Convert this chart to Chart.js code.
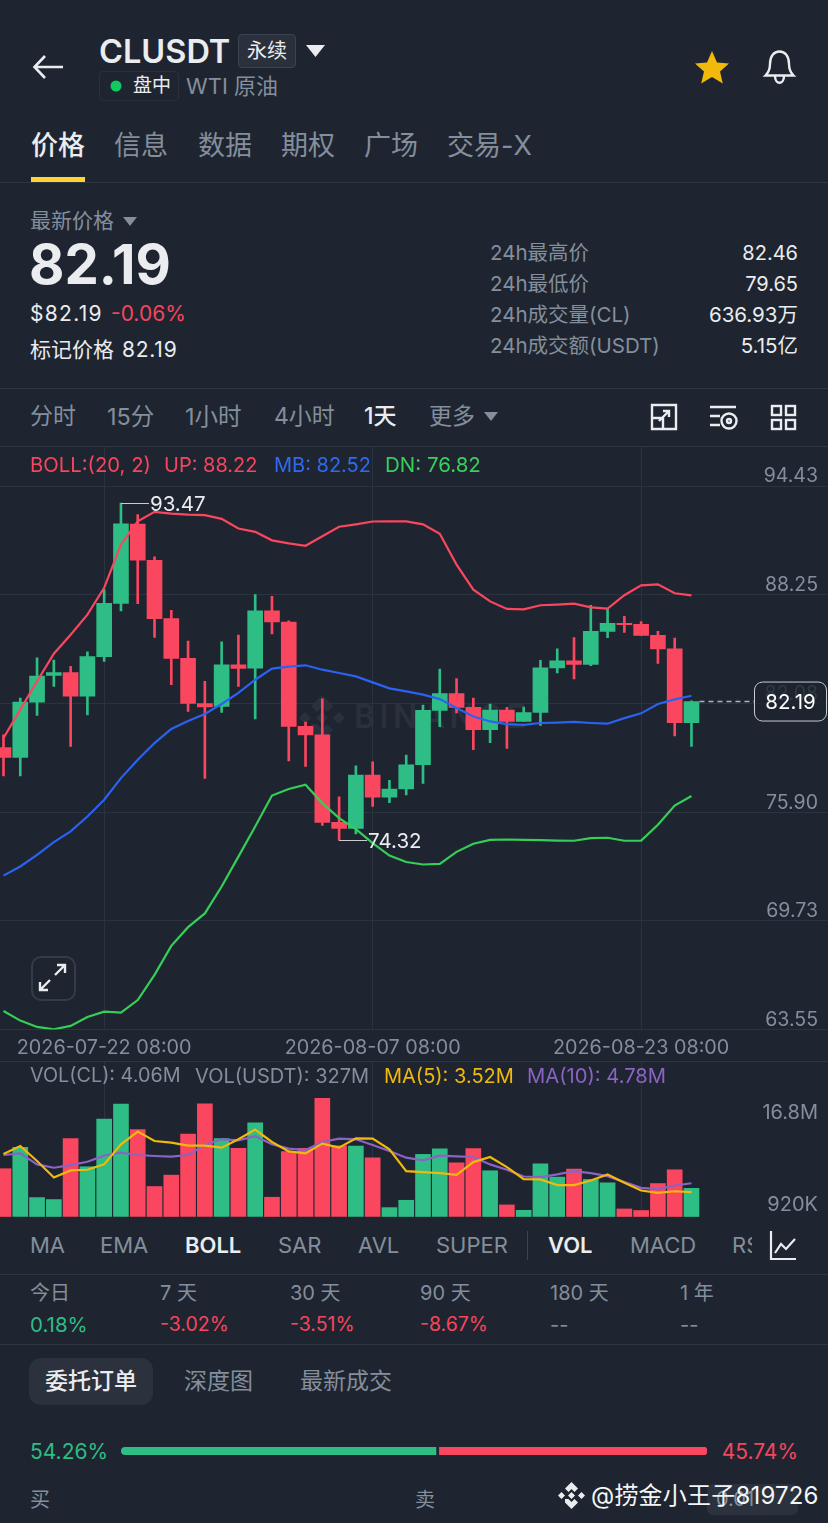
<!DOCTYPE html>
<html lang="zh">
<head>
<meta charset="utf-8">
<title>CLUSDT</title>
<script src="https://cdn.jsdelivr.net/npm/chart.js@4"></script>
<style>
    html, body { margin: 0; padding: 0; background: #1e2530; }
    body { position: relative; width: 828px; height: 1523px; overflow: hidden; color: #eaecef;
        font-family: Inter, "Noto Sans CJK SC", sans-serif; }
    canvas { position: absolute; left: 0; display: block; }
    .t { position: absolute; white-space: nowrap; transform: translateY(-50%); font-size: 21px; line-height: 1.2; }
    .g { color: #848e9c; }
    .w { color: #eaecef; }
    .up { color: #2ebd85; }
    .dn { color: #f6465d; }
    .b { font-weight: 600; }
    .rule { position: absolute; left: 0; width: 828px; height: 1px; background: #2e3643; }
    svg { position: absolute; overflow: visible; }
</style>
</head>
<body>
<!-- header -->
<svg style="left:33px;top:55px" width="30" height="24" fill="none" stroke="#eaecef" stroke-width="2.6"><path d="M30 12H2M12 1 1.5 12 12 23"/></svg>
<div class="t b" style="left:99px;top:51px;font-size:32.500px">CLUSDT</div>
<div style="position:absolute;left:238px;top:34px;width:56px;height:32px;border:1px solid #3c4452;border-radius:4px;background:#2a313d"></div>
<div class="t" style="left:247px;top:51px;font-size:20px">永续</div>
<svg style="left:306px;top:45px" width="19" height="12"><path d="M0 0H19L9.5 12Z" fill="#eaecef"/></svg>
<div style="position:absolute;left:99px;top:71px;width:78px;height:28px;border:1px solid #2a313d;border-radius:4px"></div>
<svg style="left:110px;top:80px" width="12" height="12"><circle cx="6" cy="6" r="5.5" fill="#0ecb61"/></svg>
<div class="t" style="left:133px;top:86px;font-size:19px">盘中</div>
<div class="t g" style="left:186px;top:86px;font-size:22px">WTI 原油</div>
<svg style="left:695px;top:50px" width="34" height="34"><path d="M17 1l5 11.5 12 1-9 8 2.800 12L17 27l-10.800 6.500L9 21.500l-9-8 12-1z" fill="#f0b90b"/></svg>
<svg style="left:764px;top:50px" width="32" height="34" fill="none" stroke="#eaecef" stroke-width="2.4"><path d="M1.500 25.500C5 22 6 19 6 14 6 6 10 1.500 15.500 1.500S25 6 25 14c0 5 1 8 4.500 11.500zM11 26c0 9 9 9 9 0"/></svg>
<div class="t b" style="left:31px;top:146px;font-size:27px;font-weight:500">价格</div>
<div class="t g" style="left:114px;top:146px;font-size:27px">信息</div>
<div class="t g" style="left:198px;top:146px;font-size:27px">数据</div>
<div class="t g" style="left:281px;top:146px;font-size:27px">期权</div>
<div class="t g" style="left:364px;top:146px;font-size:27px">广场</div>
<div class="t g" style="left:447px;top:146px;font-size:27px">交易-X</div>
<div style="position:absolute;left:31px;top:177px;width:54px;height:5px;background:#fcd535"></div>
<div class="rule" style="top:182px"></div>

<!-- price block -->
<div class="t g" style="left:30px;top:221px">最新价格</div>
<svg style="left:123px;top:217px" width="14" height="9"><path d="M0 0H14L7 9Z" fill="#848e9c"/></svg>
<div class="t b" style="left:29px;top:265px;font-size:54.500px;font-weight:700">82.19</div>
<div class="t w" style="left:30px;top:314px;letter-spacing:1.300px">$82.19</div>
<div class="t dn" style="left:111px;top:314px">-0.06%</div>
<div class="t w" style="left:30px;top:350px">标记价格 <span style="margin-left:2px;letter-spacing:.8px">82.19</span></div>
<div class="t g" style="left:490px;top:253px;font-size:20.500px">24h最高价</div>
<div class="t g" style="left:490px;top:284px;font-size:20.500px">24h最低价</div>
<div class="t g" style="left:490px;top:315px;font-size:20.500px">24h成交量(CL)</div>
<div class="t g" style="left:490px;top:346px;font-size:20.500px">24h成交额(USDT)</div>
<div class="t w" style="right:30px;top:253px;font-size:20px">82.46</div>
<div class="t w" style="right:30px;top:284px;font-size:20px">79.65</div>
<div class="t w" style="right:30px;top:315px;font-size:20.500px">636.93万</div>
<div class="t w" style="right:30px;top:346px;font-size:20.500px">5.15亿</div>
<div class="rule" style="top:388px"></div>

<!-- interval row -->
<div class="t g" style="left:30px;top:417px;font-size:23px">分时</div>
<div class="t g" style="left:107px;top:417px;font-size:23.500px">15分</div>
<div class="t g" style="left:185px;top:417px;font-size:23.500px">1小时</div>
<div class="t g" style="left:274px;top:417px;font-size:23px">4小时</div>
<div class="t b" style="left:364px;top:417px;font-size:23px;font-weight:500">1天</div>
<div class="t g" style="left:429px;top:417px;font-size:23px">更多</div>
<svg style="left:484px;top:412px" width="14" height="9"><path d="M0 0H14L7 9Z" fill="#848e9c"/></svg>
<svg style="left:651px;top:404px" width="26" height="26" fill="none" stroke="#eaecef" stroke-width="2.400"><path d="M1 1H25V25H1ZM1 14H12V25M18 7 8 17M12 7H18V13"/></svg>
<svg style="left:710px;top:405px" width="28" height="26" fill="none" stroke="#eaecef" stroke-width="2.400"><path d="M0 2H26M0 11H10M0 20H10"/><circle cx="19" cy="16" r="7.500"/><circle cx="19" cy="16" r="2"/></svg>
<svg style="left:771px;top:405px" width="26" height="26" fill="none" stroke="#eaecef" stroke-width="2.400"><rect x="1" y="1" width="9" height="9"/><rect x="15" y="1" width="9" height="9"/><rect x="1" y="15" width="9" height="9"/><rect x="15" y="15" width="9" height="9"/></svg>
<div class="rule" style="top:446px"></div>

<!-- watermark sits under the transparent canvas -->
<svg style="left:299px;top:695px" width="46" height="46" fill="#2a313c"><path d="M23 0 34 11 28 17 23 12 18 17 12 11ZM6 17 12 23 6 29 0 23ZM40 17 46 23 40 29 34 23ZM23 17 29 23 23 29 17 23ZM12 29 18 29 23 34 28 29 34 35 23 46 12 35Z"/></svg>
<div class="t b" style="left:354px;top:717px;font-size:32px;color:#2a313c;letter-spacing:4.500px">BINANCE</div>

<canvas id="priceChart" style="top:446px" width="828" height="615"></canvas>

<div class="t dn" style="left:30px;top:465px;font-size:20.300px">BOLL:(20, 2)</div>
<div class="t dn" style="left:164px;top:465px;font-size:20px">UP: 88.22</div>
<div class="t" style="left:274px;top:465px;font-size:20px;color:#2f6bf2">MB: 82.52</div>
<div class="t" style="left:385px;top:465px;font-size:20.500px;color:#37d05a">DN: 76.82</div>

<div style="position:absolute;left:31px;top:956px;width:41px;height:41px;border:2px solid #343c49;border-radius:10px"></div>
<svg style="left:39px;top:964px" width="27" height="27" fill="none" stroke="#eaecef" stroke-width="2.400"><path d="M16 11 26 1M18 1H26V9M11 16 1 26M1 18V26H9"/></svg>

<div class="rule" style="top:1061px"></div>
<canvas id="volChart" style="top:1061px" width="828" height="156"></canvas>
<div class="t g" style="left:30px;top:1076px;font-size:19.800px">VOL(CL): 4.06M</div>
<div class="t g" style="left:195px;top:1076px;font-size:20px">VOL(USDT): 327M</div>
<div class="t" style="left:384px;top:1076px;font-size:20px;color:#f0b90b">MA(5): 3.52M</div>
<div class="t" style="left:527px;top:1076px;font-size:20.200px;color:#8a63c4">MA(10): 4.78M</div>

<!-- indicator row -->
<div class="t g" style="left:30px;top:1245px;font-size:22px">MA</div>
<div class="t g" style="left:100px;top:1245px;font-size:22px">EMA</div>
<div class="t b" style="left:185px;top:1245px;font-size:22px">BOLL</div>
<div class="t g" style="left:278px;top:1245px;font-size:22px">SAR</div>
<div class="t g" style="left:358px;top:1245px;font-size:22px">AVL</div>
<div class="t g" style="left:436px;top:1245px;font-size:22px">SUPER</div>
<div style="position:absolute;left:527px;top:1231px;width:1px;height:29px;background:#3c4452"></div>
<div class="t b" style="left:548px;top:1245px;font-size:22px">VOL</div>
<div class="t g" style="left:630px;top:1245px;font-size:22px">MACD</div>
<div style="position:absolute;left:732px;top:1230px;width:20px;height:30px;overflow:hidden"><div class="t g" style="left:0;top:15px;font-size:22px">RSI</div></div>
<svg style="left:770px;top:1231px" width="26" height="30" fill="none" stroke="#eaecef" stroke-width="2.200"><path d="M1 0V28H26M5 22 11 13 16 18 25 8"/></svg>
<div class="rule" style="top:1274px"></div>

<div class="t g" style="left:30px;top:1293px;font-size:20px">今日</div>
<div class="t g" style="left:160px;top:1293px;font-size:20px">7 天</div>
<div class="t g" style="left:290px;top:1293px;font-size:20px">30 天</div>
<div class="t g" style="left:420px;top:1293px;font-size:20px">90 天</div>
<div class="t g" style="left:550px;top:1293px;font-size:20px">180 天</div>
<div class="t g" style="left:680px;top:1293px;font-size:20px">1 年</div>
<div class="t up" style="left:30px;top:1325px;font-size:20.500px">0.18%</div>
<div class="t dn" style="left:160px;top:1325px;font-size:19.500px">-3.02%</div>
<div class="t dn" style="left:290px;top:1325px;font-size:19.500px">-3.51%</div>
<div class="t dn" style="left:420px;top:1325px;font-size:19.500px">-8.67%</div>
<div class="t g" style="left:550px;top:1325px;font-size:20px">--</div>
<div class="t g" style="left:680px;top:1325px;font-size:20px">--</div>
<div class="rule" style="top:1344px"></div>

<!-- order book -->
<div style="position:absolute;left:29px;top:1358px;width:124px;height:47px;background:#2b323e;border-radius:12px"></div>
<div class="t b" style="left:45px;top:1382px;font-size:23px;font-weight:500">委托订单</div>
<div class="t g" style="left:184px;top:1382px;font-size:23px">深度图</div>
<div class="t g" style="left:300px;top:1382px;font-size:23px">最新成交</div>
<div class="t up" style="left:30px;top:1452px">54.26%</div>
<canvas id="ratioChart" style="left:121px;top:1447px" width="586" height="8"></canvas>
<div class="t dn" style="right:30px;top:1452px">45.74%</div>
<div class="t g" style="left:30px;top:1500px;font-size:20px">买</div>
<div class="t g" style="left:415px;top:1500px;font-size:20px">卖</div>
<div style="position:absolute;left:707px;top:1484px;width:91px;height:31px;background:#2b323e;border-radius:6px"></div>
<div class="t g" style="left:716px;top:1499px;font-size:20px">0.01</div>
<svg style="left:558px;top:1482px" width="27" height="27" fill="#eaecef"><path d="M13.500 0 20 6.500 16.500 10 13.500 7 10.500 10 7 6.500ZM3.500 10 7 13.500 3.500 17 0 13.500ZM23.500 10 27 13.500 23.500 17 20 13.500ZM13.500 10 17 13.500 13.500 17 10 13.500ZM7 17 10.500 17 13.500 20 16.500 17 20 20.500 13.500 27 7 20.500Z"/></svg>
<div class="t" style="left:591px;top:1496px;font-size:24px;color:#f4f5f6;letter-spacing:.2px">@捞金小王子819726</div>

<script>
// daily candles, 2026-07-16 .. 2026-08-26
const opens  = [79.58,79.01,82.16,83.68,83.83,82.50,84.74,87.77,92.27,90.22,86.90,84.64,82.07,81.91,84.27,84.09,87.34,86.71,80.78,80.30,75.32,74.98,78.01,76.76,77.22,78.60,81.69,82.64,81.86,80.59,81.71,81.06,81.57,84.10,84.51,84.30,86.18,86.63,86.58,85.95,85.18,80.99];
const closes = [79.01,82.16,83.64,83.83,82.50,84.74,87.77,92.29,90.22,86.90,84.64,82.08,81.88,84.27,84.07,87.34,86.71,80.78,80.30,75.32,74.98,78.01,76.76,77.22,78.60,81.69,82.64,81.86,80.59,81.71,81.06,81.57,84.10,84.51,84.30,86.18,86.63,86.56,85.95,85.18,80.99,82.19];
const highs  = [80.30,82.39,84.67,84.55,84.19,85.01,88.55,93.47,92.81,90.41,87.37,85.63,83.34,85.59,85.97,88.27,88.17,86.77,81.03,82.35,76.78,78.54,78.77,77.71,79.15,81.99,84.04,83.49,82.39,82.05,81.86,81.88,84.53,85.18,85.82,87.66,87.45,87.03,86.73,86.18,85.80,82.23];
const lows   = [77.97,77.97,81.40,83.05,79.64,81.43,84.47,87.34,87.75,85.84,83.15,81.63,77.82,81.57,83.05,81.20,86.03,78.81,78.50,75.15,74.32,74.67,76.23,76.45,76.88,77.54,80.76,81.54,79.45,79.85,79.53,81.06,80.84,83.81,83.47,84.23,85.82,86.12,85.95,84.36,80.23,79.64];

// Bollinger bands
const bollUp = [80.12,81.73,83.34,84.91,85.99,87.13,88.65,91.11,92.43,92.97,92.87,92.81,92.78,92.57,92.02,91.83,91.35,91.18,91.04,91.58,92.12,92.26,92.42,92.43,92.43,92.26,91.72,89.97,88.55,87.88,87.45,87.43,87.66,87.70,87.75,87.54,87.47,88.23,88.79,88.85,88.34,88.22];
const bollMb = [72.30,72.82,73.48,74.20,74.81,75.66,76.61,77.84,78.88,79.83,80.63,81.08,81.48,82.05,82.68,83.43,84.06,84.17,84.25,84.00,83.81,83.62,83.28,82.94,82.77,82.58,82.33,81.82,81.34,81.06,80.91,80.87,80.97,80.99,81.03,80.97,80.93,81.25,81.52,82.05,82.31,82.52];
const bollDn = [64.61,64.06,63.70,63.57,63.76,64.27,64.57,64.51,65.23,66.66,68.31,69.37,70.15,71.68,73.38,75.09,76.85,77.22,77.46,76.42,75.57,74.94,74.15,73.44,73.07,72.93,72.97,73.65,74.11,74.33,74.35,74.33,74.32,74.29,74.28,74.43,74.45,74.28,74.29,75.19,76.28,76.82];

// volume in millions, with its moving averages
const volumes = [6.84,9.87,2.75,2.47,11.10,7.12,13.86,16.00,12.39,4.32,5.93,11.73,16.05,11.11,9.73,13.34,2.80,9.26,9.73,16.80,10.10,10.06,8.40,1.33,2.37,8.87,9.64,7.69,9.68,6.55,1.71,0.95,7.55,5.65,6.79,5.32,4.84,1.14,0.92,4.74,6.69,4.06];
const volMa5  = [8.92,10.06,7.93,5.60,6.60,6.69,7.45,10.30,12.10,10.77,10.54,10.11,10.11,9.82,11.01,12.39,10.63,9.30,9.02,10.39,9.82,11.15,11.11,9.59,6.50,6.36,6.22,5.98,7.78,8.50,7.07,5.36,5.32,4.51,4.51,5.17,6.03,4.84,3.75,3.42,3.65,3.52];
const volMa10 = [8.78,9.02,7.45,6.98,7.36,7.83,8.69,9.11,8.78,8.64,8.54,8.78,10.20,11.01,10.87,11.44,10.30,9.68,9.49,10.63,11.11,11.01,10.20,9.35,8.40,8.02,8.69,8.59,8.50,7.45,6.69,5.74,5.65,6.03,6.50,6.22,5.79,4.94,4.13,3.94,4.46,4.78];

const priceTicks = [94.43, 88.25, 82.08, 75.90, 69.73, 63.55];
const dateTickIndex = [6, 22, 38];
const dateTickLabels = ["2026-07-22 08:00", "2026-08-07 08:00", "2026-08-23 08:00"];
const volTickValues = [16.8, 0.92];
const volTickLabels = ["16.8M", "920K"];
const lastPrice = 82.19;
const buyPct = 54.26;
const sellPct = 45.74;

const GREEN = "#2ebd85", RED = "#fb465f", BG = "#1e2530";
const GRID = "#2b3340", AXIS_TEXT = "#848e9c";
const FONT = 'Inter, "Noto Sans CJK SC", sans-serif';
const candleColors = closes.map((c, i) => (c >= opens[i] ? GREEN : RED));

// same horizontal range for both panels, so the candles line up with the volume bars
const X_MIN = -0.2086, X_MAX = 49.136;

function series(arr) { return arr.map((v, i) => ({ x: i, y: v })); }
function lineSet(arr, color, order) {
    return { type: "line", data: series(arr), borderColor: color, borderWidth: 2.2, pointRadius: 0, tension: 0, order: order };
}

// high/low callouts and the last price tag, placed through the chart's scales
const priceMarks = {
    id: "priceMarks",
    afterDatasetsDraw(chart) {
        const { ctx, scales: { x, y } } = chart;
        const hi = Math.max(...highs), lo = Math.min(...lows);
        ctx.save();
        ctx.font = "20.5px " + FONT;
        ctx.textBaseline = "middle";
        ctx.textAlign = "left";
        [[hi, highs.indexOf(hi)], [lo, lows.indexOf(lo)]].forEach(function (m) {
            const px = x.getPixelForValue(m[1]), py = Math.round(y.getPixelForValue(m[0])) + 0.5;
            ctx.strokeStyle = "#c9ccd1";
            ctx.lineWidth = 1;
            ctx.beginPath(); ctx.moveTo(px, py); ctx.lineTo(px + 28, py); ctx.stroke();
            ctx.fillStyle = "#eaecef";
            ctx.fillText(m[0].toFixed(2), px + 29, py + 1);
        });

        // dashed line from the last candle to the price tag
        const ly = y.getPixelForValue(lastPrice);
        ctx.strokeStyle = "#aeb4bc";
        ctx.lineWidth = 1.5;
        ctx.setLineDash([5, 4]);
        ctx.beginPath(); ctx.moveTo(x.getPixelForValue(41) + 8, ly); ctx.lineTo(754, ly); ctx.stroke();
        ctx.setLineDash([]);
        ctx.beginPath(); ctx.roundRect(754.5, ly - 19.5, 72, 39, 8);
        ctx.fillStyle = "rgba(30,37,48,0.82)"; ctx.fill();
        ctx.strokeStyle = "#c9ccd1"; ctx.lineWidth = 1; ctx.stroke();
        ctx.fillStyle = "#fff";
        ctx.textAlign = "center";
        ctx.fillText(lastPrice.toFixed(2), 790.5, ly + 1.5);
        ctx.restore();
    }
};

new Chart(document.getElementById("priceChart"), {
    data: {
        datasets: [
            lineSet(bollUp, RED, 1),
            lineSet(bollMb, "#2a62f2", 1),
            lineSet(bollDn, "#35cf58", 1),
            { type: "bar", data: opens.map((o, i) => ({ x: i, y: [o, closes[i]] })), backgroundColor: candleColors, barThickness: 15, grouped: false, order: 2 },
            { type: "bar", data: lows.map((l, i) => ({ x: i, y: [l, highs[i]] })), backgroundColor: candleColors, barThickness: 2, grouped: false, order: 3 }
        ]
    },
    options: {
        responsive: false, animation: false,
        layout: { padding: 0 },
        plugins: { legend: { display: false }, tooltip: { enabled: false } },
        scales: {
            x: {
                type: "linear", min: X_MIN, max: X_MAX, offset: false,
                grid: { color: GRID, offset: false, drawTicks: false },
                border: { display: false },
                afterBuildTicks(s) { s.ticks = dateTickIndex.map(v => ({ value: v })); },
                // no room reserved for the outer labels, the plot runs edge to edge
                afterFit(s) { s.height = 31.4; s.paddingLeft = 0; s.paddingRight = 0; },
                ticks: {
                    color: AXIS_TEXT, font: { size: 19.8, family: FONT }, padding: 6.5, maxRotation: 0, autoSkip: false,
                    callback(v) { return dateTickLabels[dateTickIndex.indexOf(v)]; }
                }
            },
            y: {
                position: "right", min: 63.55, max: 96.71,
                grid: { color: GRID, drawTicks: false },
                border: { display: false },
                afterBuildTicks(s) { s.ticks = priceTicks.map(v => ({ value: v })); },
                afterFit(s) { s.width = 0; s.paddingTop = 0; s.paddingBottom = 0; },
                ticks: {
                    mirror: true, color: AXIS_TEXT, font: { size: 19.5, family: FONT }, padding: -10, labelOffset: -9.5, autoSkip: false,
                    callback(v) { return v.toFixed(2); }
                }
            }
        }
    },
    plugins: [priceMarks]
});

// the volume labels do not sit on their values, the app nudges them into the panel
const volLabels = {
    id: "volLabels",
    afterDraw(chart) {
        const { ctx, scales: { y } } = chart;
        ctx.save();
        ctx.font = "20px " + FONT;
        ctx.fillStyle = AXIS_TEXT;
        ctx.textAlign = "right";
        ctx.textBaseline = "middle";
        volTickValues.forEach(function (v, i) {
            ctx.fillText(volTickLabels[i], 818, y.getPixelForValue(v) + (i === 0 ? 15 : -6));
        });
        ctx.restore();
    }
};

new Chart(document.getElementById("volChart"), {
    data: {
        datasets: [
            lineSet(volMa5, "#f0b90b", 1),
            lineSet(volMa10, "#8a63c4", 1),
            { type: "bar", data: series(volumes), backgroundColor: candleColors, barThickness: 15, order: 2 }
        ]
    },
    options: {
        responsive: false, animation: false,
        layout: { padding: 0 },
        plugins: { legend: { display: false }, tooltip: { enabled: false } },
        scales: {
            x: {
                type: "linear", min: X_MIN, max: X_MAX, offset: false,
                grid: { color: GRID, offset: false, drawTicks: false },
                border: { display: false },
                afterBuildTicks(s) { s.ticks = dateTickIndex.map(v => ({ value: v })); },
                ticks: { display: false }
            },
            y: {
                position: "right", min: 0, max: 22.1,
                grid: { color: GRID, drawTicks: false },
                border: { display: false },
                afterBuildTicks(s) { s.ticks = [{ value: 0 }]; },
                ticks: { display: false }
            }
        }
    },
    plugins: [volLabels]
});

// buy / sell split bar
new Chart(document.getElementById("ratioChart"), {
    type: "bar",
    data: {
        labels: [""],
        datasets: [
            { data: [buyPct], backgroundColor: GREEN, borderRadius: { topLeft: 4, bottomLeft: 4 }, borderSkipped: false, borderWidth: { right: 3 }, borderColor: BG },
            { data: [sellPct], backgroundColor: RED, borderRadius: { topRight: 4, bottomRight: 4 }, borderSkipped: false }
        ]
    },
    options: {
        indexAxis: "y", responsive: false, animation: false,
        layout: { padding: 0 },
        plugins: { legend: { display: false }, tooltip: { enabled: false } },
        datasets: { bar: { barPercentage: 1, categoryPercentage: 1 } },
        scales: {
            x: { display: false, stacked: true, min: 0, max: 100 },
            y: { display: false, stacked: true }
        }
    }
});
</script>
</body>
</html>
